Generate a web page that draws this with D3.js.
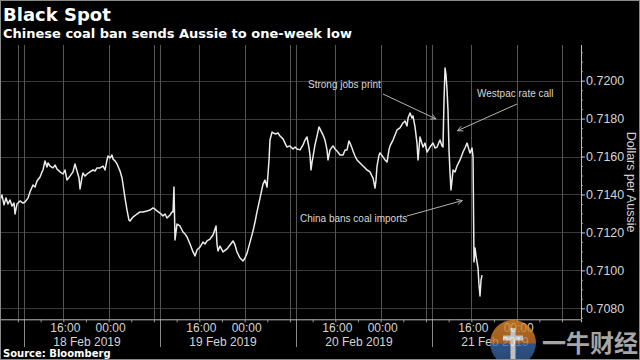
<!DOCTYPE html>
<html>
<head>
<meta charset="utf-8">
<script src="https://cdn.jsdelivr.net/npm/d3@7"></script>
<style>
  body { margin: 0; background: #000; }
  svg { display: block; }
</style>
</head>
<body>
<div id="chart"></div>
<script>
(function(){

    // hours since 18 Feb 2019 00:00 (axis clock) and AUD/USD
    var hours = [
      4.83, 5.18, 5.54, 5.89, 6.24, 6.59, 6.95, 7.30, 7.48, 7.83, 8.36, 8.89, 9.24, 9.77, 10.12, 10.65,
      11.01, 11.36, 11.89, 12.24, 12.42, 12.77, 13.12, 13.30, 13.65, 14.18, 14.54, 14.89, 15.42, 15.95,
      16.30, 16.65, 17.18, 17.71, 18.06, 18.42, 18.77, 18.95, 19.30, 19.48, 19.83, 20.18, 20.71, 21.24,
      21.59, 21.95, 22.48, 23.01, 23.36, 23.71, 23.89, 24.24, 24.59, 24.77, 25.12, 25.48, 26.01, 26.36,
      26.53, 26.89, 27.24, 27.59, 27.77,
      28.30, 29.00, 29.53, 30.06, 30.77, 31.30, 31.83, 32.18, 32.53, 33.06, 33.59, 33.95, 34.30, 34.83,
      35.18, 35.36, 35.53, 35.71, 36.06, 36.59, 37.12, 37.48, 37.83, 38.36, 38.89, 39.24, 39.59, 40.12,
      40.65, 41.01, 41.36, 41.89, 42.42, 42.95, 43.12, 43.30, 43.65, 44.18, 44.89, 45.42, 45.95, 46.30,
      46.65, 47.18, 47.71, 48.06, 48.42, 48.95, 49.47, 49.83, 50.18, 50.71, 51.24, 51.59, 51.95, 52.30,
      52.47, 52.83,
      53.36, 53.89, 54.24, 54.77, 55.12, 55.47, 56.00, 56.53, 56.89, 57.24, 57.77, 58.30, 58.65, 59.00,
      59.36, 59.53, 59.71, 59.89, 60.06, 60.41, 60.77, 61.12, 61.47, 61.83, 62.18, 62.53, 62.71, 63.06,
      63.59, 63.94, 64.30, 64.83, 65.36, 65.71, 66.06, 66.41, 66.59, 66.94, 67.12, 67.47, 67.83, 68.36,
      68.88, 69.24, 69.59, 70.12, 70.47, 70.65, 71.00, 71.18, 71.36, 71.71, 71.89, 72.41, 72.77, 73.12,
      73.47, 73.65, 74.18, 74.53, 74.89, 75.41, 75.94, 76.30, 76.65, 76.83, 77.18, 77.53, 77.71, 78.06,
      78.41, 78.59, 78.94,
      79.47, 79.83, 80.18, 80.71, 81.24, 81.59, 81.94, 82.47, 82.83, 83.00, 83.18, 83.36, 83.53, 83.71,
      83.88, 84.06, 84.24, 84.41, 84.59, 84.77, 85.12, 85.47, 86.00, 86.35, 86.53, 86.88, 87.24, 87.59,
      87.77, 88.12, 88.30, 88.47, 88.65, 88.83, 89.00, 89.18, 89.35, 89.53, 89.71, 89.88
    ];
    var rates = [
      0.71371, 0.71397, 0.71345, 0.71381, 0.71350, 0.71371, 0.71339, 0.71355, 0.71297, 0.71350, 0.71366, 0.71355, 0.71360, 0.71381, 0.71413, 0.71450,
      0.71439, 0.71471, 0.71492, 0.71519, 0.71529, 0.71577, 0.71545, 0.71566, 0.71550, 0.71540, 0.71555, 0.71534, 0.71519, 0.71508,
      0.71529, 0.71476, 0.71497, 0.71519, 0.71561, 0.71524, 0.71487, 0.71429, 0.71492, 0.71513, 0.71497, 0.71508, 0.71519, 0.71529,
      0.71524, 0.71540, 0.71540, 0.71550, 0.71529, 0.71582, 0.71603, 0.71592, 0.71608, 0.71587, 0.71577, 0.71561, 0.71524, 0.71487,
      0.71455, 0.71381, 0.71318, 0.71265, 0.71260,
      0.71281, 0.71297, 0.71308, 0.71308, 0.71313, 0.71318, 0.71329, 0.71323, 0.71313, 0.71302, 0.71287, 0.71297, 0.71276, 0.71292,
      0.71308, 0.71308, 0.71439, 0.71160, 0.71244, 0.71234, 0.71202, 0.71192, 0.71176, 0.71139, 0.71097, 0.71076, 0.71107, 0.71123,
      0.71149, 0.71139, 0.71155, 0.71165, 0.71186, 0.71234, 0.71139, 0.71102, 0.71128, 0.71097, 0.71113, 0.71134, 0.71155, 0.71134,
      0.71097, 0.71065, 0.71049, 0.71065, 0.71091, 0.71149, 0.71207, 0.71255, 0.71308, 0.71381, 0.71455, 0.71476, 0.71439, 0.71582,
      0.71687, 0.71729,
      0.71719, 0.71724, 0.71708, 0.71693, 0.71671, 0.71650, 0.71656, 0.71640, 0.71650, 0.71640, 0.71635, 0.71661, 0.71687, 0.71703,
      0.71645, 0.71608, 0.71529, 0.71571, 0.71598, 0.71661, 0.71708, 0.71756, 0.71735, 0.71714, 0.71687, 0.71635, 0.71582, 0.71635,
      0.71656, 0.71640, 0.71629, 0.71608, 0.71608, 0.71635, 0.71635, 0.71682, 0.71671, 0.71645, 0.71629, 0.71603, 0.71582, 0.71566,
      0.71550, 0.71540, 0.71529, 0.71519, 0.71497, 0.71487, 0.71434, 0.71476, 0.71550, 0.71608, 0.71619, 0.71598, 0.71582, 0.71571,
      0.71635, 0.71656, 0.71687, 0.71714, 0.71740, 0.71751, 0.71777, 0.71787, 0.71761, 0.71803, 0.71830, 0.71803, 0.71814, 0.71756,
      0.71671, 0.71582, 0.71703,
      0.71650, 0.71671, 0.71624, 0.71650, 0.71671, 0.71645, 0.71650, 0.71687, 0.71656, 0.71650, 0.71898, 0.72067, 0.72030, 0.71951,
      0.71846, 0.71635, 0.71513, 0.71424, 0.71476, 0.71529, 0.71519, 0.71550, 0.71582, 0.71608, 0.71624, 0.71645, 0.71671, 0.71635,
      0.71619, 0.71645, 0.71598, 0.71044, 0.71118, 0.71076, 0.71044, 0.71012, 0.70923, 0.70865, 0.70949, 0.70975
    ];

    var rateTicks = [0.7080, 0.7100, 0.7120, 0.7140, 0.7160, 0.7180, 0.7200];
    var clockTicks = [16, 24, 40, 48, 64, 72, 88, 96];        // labelled 16:00 / 00:00
    var sessionLines = [8, 32, 56, 80, 104];
    var dayBreaks = [9, 33, 57, 81];
    var dayLabels = ["18 Feb 2019", "19 Feb 2019", "20 Feb 2019", "21 Feb 2019"];
    var dayLabelHours = [20, 44, 68, 92];

    var notes = [
      {text: "Strong jobs print", hour: 81.77, rate: 0.71798, tx: 308, ty: 88, lx: 383, ly: 94},
      {text: "Westpac rate call", hour: 85.53, rate: 0.71736, tx: 477, ty: 97, lx: 517, ly: 104},
      {text: "China bans coal imports", hour: 86.41, rate: 0.71368, tx: 300, ty: 222, lx: 407, ly: 216}
    ];

    var base = Date.UTC(2019, 1, 18);
    function toDate(h){ return new Date(base + h * 3600000); }

    var width = 640;
    var height = 360;
    var left = 0, right = 581, top = 45, bottom = 319.3;

    var svg = d3.select("#chart")
      .append("svg")
      .attr("width", width)
      .attr("height", height)
      .style("background", "#000");

    var x = d3.scaleUtc()
      .domain([toDate(4.83), toDate(107.35)])
      .range([left, right]);

    var y = d3.scaleLinear()
      .domain([0.70742, 0.72188])
      .range([bottom, top]);

    // horizontal grid
    svg.append("g")
      .selectAll("line")
      .data(rateTicks)
      .enter()
      .append("line")
      .attr("x1", left).attr("x2", right)
      .attr("y1", function(d){ return Math.round(y(d)) + 0.5; })
      .attr("y2", function(d){ return Math.round(y(d)) + 0.5; })
      .attr("stroke", "#3a3a3a");

    // vertical grid
    var vlines = clockTicks.concat(sessionLines).concat(dayBreaks);
    svg.append("g")
      .selectAll("line")
      .data(vlines.filter(function(h){ return x(toDate(h)) < right; }))
      .enter()
      .append("line")
      .attr("x1", function(d){ return Math.round(x(toDate(d))) + 0.5; })
      .attr("x2", function(d){ return Math.round(x(toDate(d))) + 0.5; })
      .attr("y1", top).attr("y2", bottom)
      .attr("stroke", "#555");

    // day separators run down through the label area
    svg.append("g")
      .selectAll("line")
      .data(dayBreaks)
      .enter()
      .append("line")
      .attr("x1", function(d){ return Math.round(x(toDate(d))) + 0.5; })
      .attr("x2", function(d){ return Math.round(x(toDate(d))) + 0.5; })
      .attr("y1", bottom).attr("y2", 347)
      .attr("stroke", "#8a8a8a");

    // x axis
    var xAxis = d3.axisBottom(x)
      .tickValues(d3.utcHour.every(4).range(x.domain()[0], x.domain()[1]))
      .tickSize(3)
      .tickFormat("");
    var gx = svg.append("g")
      .attr("transform", "translate(0," + bottom + ")")
      .call(xAxis);
    gx.select(".domain").attr("stroke", "#bdbdbd");
    gx.selectAll(".tick line").attr("stroke", "#9a9a9a");

    svg.append("g")
      .selectAll("text")
      .data(clockTicks)
      .enter()
      .append("text")
      .attr("x", function(d){ return x(toDate(d)) + 2; })
      .attr("y", 332)
      .attr("text-anchor", "middle")
      .attr("fill", "#d4d4d4")
      .style("font", "12px 'Liberation Sans', Arial, sans-serif")
      .text(function(d){ return d3.utcFormat("%H:%M")(toDate(d)); });

    svg.append("g")
      .selectAll("text")
      .data(dayLabels)
      .enter()
      .append("text")
      .attr("x", function(d, i){ return x(toDate(dayLabelHours[i])) + 1; })
      .attr("y", 346)
      .attr("text-anchor", "middle")
      .attr("fill", "#d4d4d4")
      .style("font", "12px 'Liberation Sans', Arial, sans-serif")
      .text(function(d){ return d; });

    // y axis on the right
    var yMinor = d3.axisRight(y)
      .tickValues(d3.ticks(0.7075, 0.7215, 28))
      .tickSize(2)
      .tickFormat("");
    var gyMinor = svg.append("g")
      .attr("transform", "translate(" + right + ",0)")
      .call(yMinor);
    gyMinor.select(".domain").remove();
    gyMinor.selectAll(".tick line").attr("stroke", "#8a8a8a");

    var yAxis = d3.axisRight(y)
      .tickValues(rateTicks)
      .tickSize(4)
      .tickPadding(1)
      .tickFormat(d3.format(".4f"));
    var gy = svg.append("g")
      .attr("transform", "translate(" + right + ",0)")
      .call(yAxis);
    gy.select(".domain").attr("stroke", "#bdbdbd").attr("d", "M0.5," + top + "V" + bottom);
    gy.selectAll(".tick line").attr("stroke", "#bdbdbd");
    gy.selectAll(".tick text")
      .attr("fill", "#d4d4d4")
      .style("font", "12.5px 'Liberation Sans', Arial, sans-serif");

    svg.append("text")
      .attr("transform", "translate(627,182) rotate(90)")
      .attr("text-anchor", "middle")
      .attr("fill", "#d4d4d4")
      .style("font", "12.5px 'Liberation Sans', Arial, sans-serif")
      .text("Dollars per Aussie");

    // the rate line
    var line = d3.line()
      .x(function(d, i){ return x(toDate(hours[i])); })
      .y(function(d){ return y(d); });

    svg.append("path")
      .datum(rates)
      .attr("d", line)
      .attr("fill", "none")
      .attr("stroke", "#ececec")
      .attr("stroke-width", 1.5)
      .attr("stroke-linejoin", "round");

    // annotations
    var ann = svg.append("g");
    notes.forEach(function(n){
      var ex = x(toDate(n.hour)), ey = y(n.rate);
      var a = Math.atan2(ey - n.ly, ex - n.lx);
      ann.append("line")
        .attr("x1", n.lx).attr("y1", n.ly)
        .attr("x2", ex).attr("y2", ey)
        .attr("stroke", "#b5b5b5").attr("stroke-width", 1);
      ann.append("path")
        .attr("d", "M" + (ex - 6 * Math.cos(a - 0.45)) + "," + (ey - 6 * Math.sin(a - 0.45)) +
                   "L" + ex + "," + ey +
                   "L" + (ex - 6 * Math.cos(a + 0.45)) + "," + (ey - 6 * Math.sin(a + 0.45)))
        .attr("fill", "none")
        .attr("stroke", "#b5b5b5");
      ann.append("text")
        .attr("x", n.tx).attr("y", n.ty)
        .attr("fill", "#d8d8d8")
        .style("font", "10px 'Liberation Sans', Arial, sans-serif")
        .text(n.text);
    });

    // titles
    svg.append("text")
      .attr("x", 3).attr("y", 21)
      .attr("fill", "#fff")
      .style("font", "bold 18px 'DejaVu Sans', sans-serif")
      .text("Black Spot");
    svg.append("text")
      .attr("x", 3).attr("y", 38)
      .attr("fill", "#fff")
      .style("font", "bold 13px 'DejaVu Sans', sans-serif")
      .text("Chinese coal ban sends Aussie to one-week low");
    svg.append("text")
      .attr("x", 3).attr("y", 357)
      .attr("fill", "#fff")
      .style("font", "bold 10px 'DejaVu Sans', sans-serif")
      .text("Source: Bloomberg");

    // reposting site's watermark
    var defs = svg.append("defs");
    var grad = defs.append("linearGradient").attr("id", "wm").attr("x1", 0).attr("y1", 0).attr("x2", 0).attr("y2", 1);
    grad.append("stop").attr("offset", "0%").attr("stop-color", "#e08a2a");
    grad.append("stop").attr("offset", "50%").attr("stop-color", "#c9742a");
    grad.append("stop").attr("offset", "52%").attr("stop-color", "#3b68a8");
    grad.append("stop").attr("offset", "100%").attr("stop-color", "#2f5890");
    var wm = svg.append("g").attr("opacity", 0.8);
    wm.append("circle").attr("cx", 513).attr("cy", 343).attr("r", 23).attr("fill", "url(#wm)");
    wm.append("path")
      .attr("d", "M503,338 L523,338 M513,328 L513,362")
      .attr("stroke", "#f2f2f2").attr("stroke-width", 5).attr("fill", "none");
    svg.append("text")
      .attr("x", 542).attr("y", 352)
      .attr("fill", "#b8b8b8")
      .attr("opacity", 0.9)
      .style("font", "bold 24px 'Noto Sans CJK SC', sans-serif")
      .text("一牛财经");

    // thin frame
    svg.append("rect")
      .attr("x", 0.5).attr("y", 0.5)
      .attr("width", width - 1).attr("height", height - 1)
      .attr("fill", "none")
      .attr("stroke", "#8a8a8a");

})();
</script>
</body>
</html>
